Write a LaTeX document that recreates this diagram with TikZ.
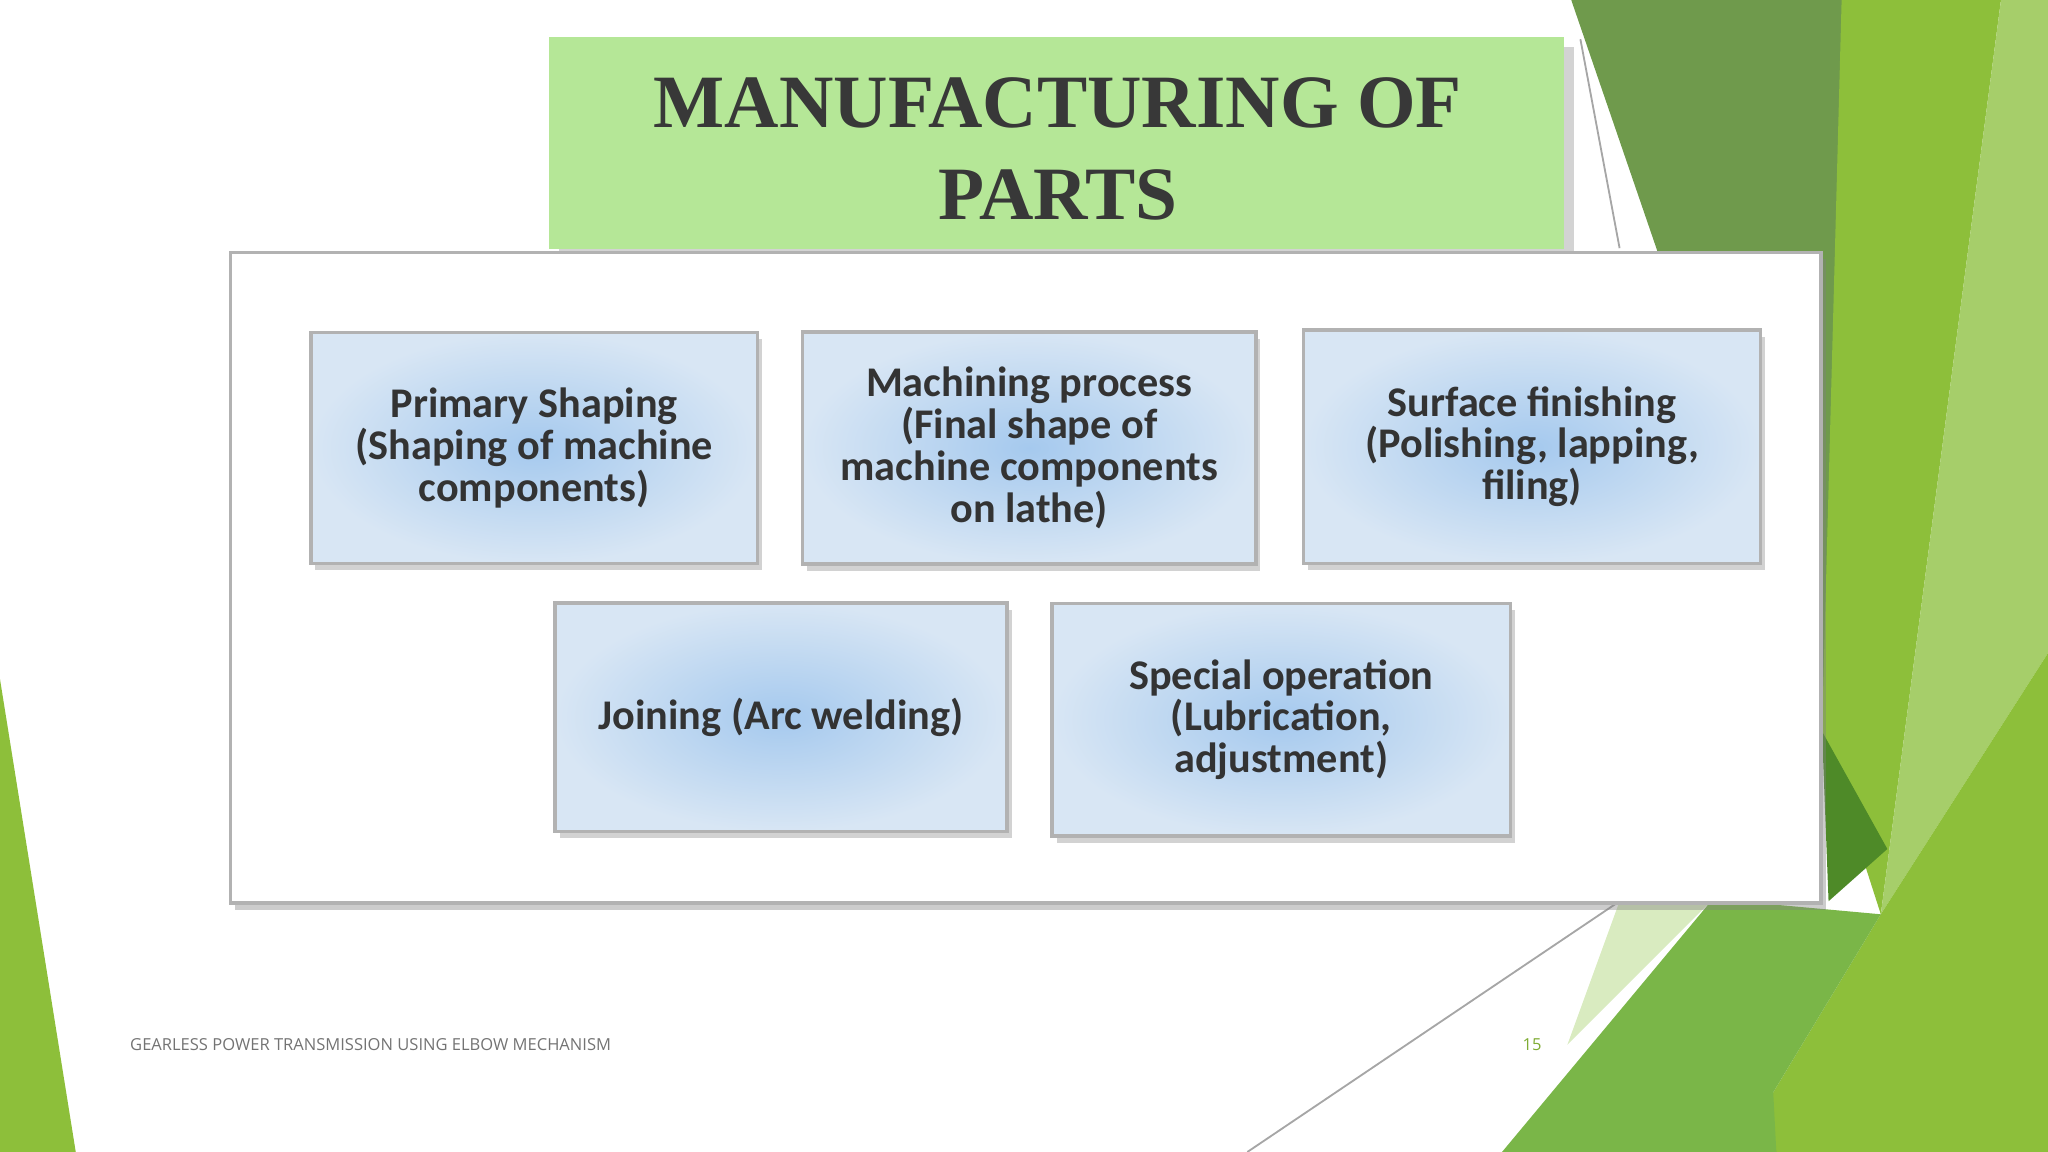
\documentclass[tikz,border=0pt]{standalone}
\usepackage{fontspec}
\setmainfont{Liberation Serif}
\newfontfamily\boxfont{Carlito}
\newfontfamily\footfont{Open Sans}
\usetikzlibrary{shadows}
\definecolor{gA}{HTML}{6F9A4C}
\definecolor{gB}{HTML}{8DBF3A}
\definecolor{gC}{HTML}{7AB648}
\definecolor{gD}{HTML}{A6CE6A}
\definecolor{gE}{HTML}{D9EBC0}
\definecolor{gF}{HTML}{4E8A28}
\definecolor{titlefill}{HTML}{B5E797}
\definecolor{boxin}{HTML}{A5C9EE}
\definecolor{boxout}{HTML}{D8E6F4}
\begin{document}
\begin{tikzpicture}[x=0.01cm,y=-0.01cm,
  procbox/.style={draw=gray!60,line width=0.8pt,inner color=boxin,outer color=boxout,
    drop shadow={shadow xshift=1pt,shadow yshift=-1.5pt,opacity=0.35},
    align=center,font=\boxfont\bfseries\fontsize{9.2}{9.1}\selectfont,text=black!80},
  foot/.style={font=\footfont\fontsize{3.6}{4.5}\selectfont,anchor=west,inner sep=0}]
\useasboundingbox (0,0) rectangle (1568,882);
% background shapes
\fill[gA] (1203,0) -- (1412,0) -- (1445,650) -- (1395,560) -- cycle;
\fill[gB] (1410,0) -- (1532,0) -- (1440,700) -- (1395,560) -- cycle;
\fill[gD] (1532,0) -- (1568,0) -- (1568,500) -- (1440,700) -- cycle;
\fill[gF] (1395,560) -- (1445,650) -- (1400,690) -- cycle;
\fill[gB] (1440,700) -- (1568,500) -- (1568,882) -- (1330,882) -- cycle;
\fill[gC] (1150,882) -- (1310,690) -- (1350,690) -- (1360,882) -- cycle;
\fill[gE] (1200,800) -- (1240,690) -- (1310,690) -- cycle;
\fill[gC] (1330,690) -- (1440,700) -- (1330,882) -- (1360,882) -- cycle;
\fill[gB] (0,520) -- (0,882) -- (58,882) -- cycle;
\draw[gray!70,line width=0.4pt] (1210,30) -- (1240,190);
\draw[gray!70,line width=0.4pt] (955,882) -- (1240,690);
% title
\node[draw=none,fill=titlefill,minimum width=777*0.01cm,minimum height=162*0.01cm,
  drop shadow={shadow xshift=2pt,shadow yshift=-2pt,opacity=0.35},
  anchor=north west,inner sep=0] (titlebox) at (420,28) {};
\node[font=\bfseries\fontsize{16.4}{20.2}\selectfont,text=black!78,align=center] (title) at (810,114) {MANUFACTURING OF\\PARTS};
% panel
\node[draw=gray!60,fill=white,line width=0.8pt,minimum width=1218*0.01cm,minimum height=498*0.01cm,
  drop shadow={shadow xshift=1pt,shadow yshift=-1.5pt,opacity=0.4},anchor=north west,inner sep=0] (panel) at (175,192) {};
% boxes
\node[procbox,minimum width=342*0.01cm,minimum height=177*0.01cm] (b1) at (409,343) {Primary Shaping\\(Shaping of machine\\components)};
\node[procbox,minimum width=347*0.01cm,minimum height=178*0.01cm] (b2) at (788,343) {Machining process\\(Final shape of\\machine components\\on lathe)};
\node[procbox,minimum width=350*0.01cm,minimum height=179*0.01cm] (b3) at (1173,342) {Surface finishing\\(Polishing, lapping,\\filing)};
\node[procbox,minimum width=346*0.01cm,minimum height=175*0.01cm] (b4) at (598,549) {Joining (Arc welding)};
\node[procbox,minimum width=351*0.01cm,minimum height=178*0.01cm] (b5) at (981,551) {Special operation\\(Lubrication,\\adjustment)};
% footer
\node[foot,text=gray!90!black] (ft) at (99,800) {GEARLESS POWER TRANSMISSION USING ELBOW MECHANISM};
\node[foot,text=gB!90!black,anchor=center] (pn) at (1173,800) {15};
\end{tikzpicture}
\end{document}
